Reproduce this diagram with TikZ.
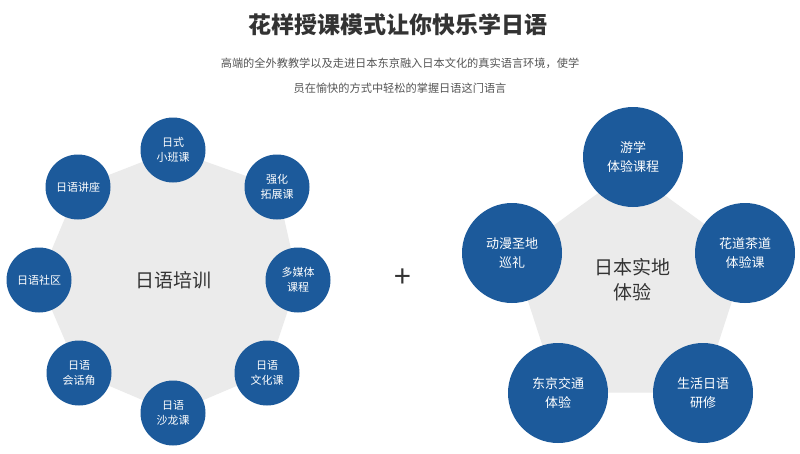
\documentclass[tikz,border=0pt]{standalone}
\usepackage{fontspec}
\setmainfont{Noto Sans CJK SC}
\usetikzlibrary{shapes.geometric}
\definecolor{cblue}{HTML}{1C5A9B}
\definecolor{cgrey}{HTML}{EBEBEB}
\definecolor{ctext}{HTML}{333333}
\definecolor{csub}{HTML}{555555}
\begin{document}
\begin{tikzpicture}[x=1pt,y=-1pt,
  sc/.style={circle,fill=cblue,draw=none,minimum size=65pt,inner sep=0pt,text=white,align=center,font=\fontsize{11}{15}\selectfont},
  bc/.style={circle,fill=cblue,draw=none,minimum size=100pt,inner sep=0pt,text=white,align=center,font=\fontsize{13}{19}\selectfont},
  ctr/.style={text=ctext,align=center,font=\fontsize{19}{25}\selectfont}]
\useasboundingbox (0,0) rectangle (800,453);
\fill[white] (0,0) rectangle (800,453);
% title
\node[text=ctext,font=\fontsize{23}{28}\selectfont\bfseries] (title) at (398,25) {花样授课模式让你快乐学日语};
\node[text=csub,align=center,font=\fontsize{11.2}{25}\selectfont] (sub) at (400,75.5) {高端的全外教教学以及走进日本东京融入日本文化的真实语言环境，使学\\员在愉快的方式中轻松的掌握日语这门语言};
% left group
\coordinate (a1) at (173,150);
\coordinate (a2) at (277,187);
\coordinate (a3) at (298,280);
\coordinate (a4) at (267,373);
\coordinate (a5) at (173,413);
\coordinate (a6) at (79,373);
\coordinate (a7) at (39,280);
\coordinate (a8) at (78,187);
\fill[cgrey] (a1) -- (a2) -- (a3) -- (a4) -- (a5) -- (a6) -- (a7) -- (a8) -- cycle;
\node[sc] (s1) at (a1) {日式\\小班课};
\node[sc] (s2) at (a2) {强化\\拓展课};
\node[sc] (s3) at (a3) {多媒体\\课程};
\node[sc] (s4) at (a4) {日语\\文化课};
\node[sc] (s5) at (a5) {日语\\沙龙课};
\node[sc] (s6) at (a6) {日语\\会话角};
\node[sc] (s7) at (a7) {日语社区};
\node[sc] (s8) at (a8) {日语讲座};
\node[ctr] (lc) at (173,280) {日语培训};
% plus
\node[text=ctext,font=\fontsize{30}{30}\selectfont] (plus) at (403,278) {+};
% right group
\node[regular polygon,regular polygon sides=5,minimum size=246pt,inner sep=0pt,fill=cgrey,draw=none] (pent) at (630,293) {};
\node[bc] (b1) at (633,157) {游学\\体验课程};
\node[bc] (b2) at (745,253) {花道茶道\\体验课};
\node[bc] (b3) at (703,393) {生活日语\\研修};
\node[bc] (b4) at (558,393) {东京交通\\体验};
\node[bc] (b5) at (512,253) {动漫圣地\\巡礼};
\node[ctr] (rc) at (632,280) {日本实地\\体验};
\end{tikzpicture}
\end{document}
